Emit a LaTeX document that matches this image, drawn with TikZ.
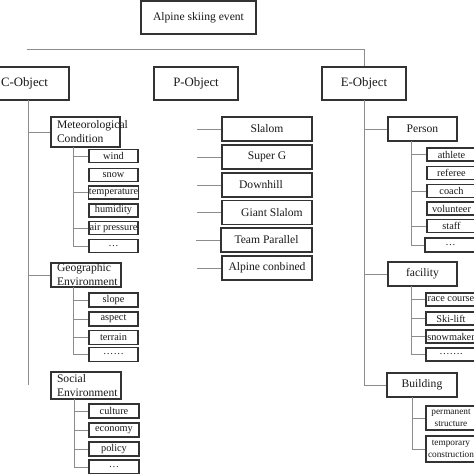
\documentclass[tikz,border=0pt]{standalone}
\usepackage{fontspec}
\setmainfont{Liberation Serif}
\begin{document}
\begin{tikzpicture}[x=1pt,y=-1pt,
  bx/.style={draw=black!80,line width=1.1pt,rectangle,inner sep=0pt,text=black!90},
  topf/.style={bx,font=\fontsize{12.8}{14}\selectfont,minimum width=84pt,minimum height=33pt},
  midf/.style={bx,font=\fontsize{11.6}{14}\selectfont},
  pbox/.style={midf,minimum width=90pt,minimum height=24pt},
  leaf/.style={bx,font=\fontsize{10.3}{12}\selectfont,minimum width=49pt,minimum height=13pt},
  conn/.style={draw=black!45,line width=0.9pt}]
\useasboundingbox (0,0) rectangle (474,474);
\clip (0,0) rectangle (474,474);
\fill[white] (0,0) rectangle (474,474);

% top level
\node[midf,minimum width=115pt,minimum height=33pt] (root) at (198.5,17.5) {Alpine skiing event};
\node[topf,minimum width=89pt] (cobj) at (24.5,83.5) {C-Object};
\node[topf] (pobj) at (196,83.5) {P-Object};
\node[topf] (eobj) at (364,83.5) {E-Object};
\coordinate (hl) at (27,49);
\draw[conn] (hl) -| (eobj.north);

% C-Object branch
\node[midf,minimum width=69pt,minimum height=30pt,text width=57pt,inner xsep=6pt,align=left] (mc) at (85.5,132) {Meteorological\\Condition};
\node[midf,minimum width=70pt,minimum height=24pt,text width=58pt,inner xsep=6pt,align=left] (geo) at (86,275) {Geographic\\Environment};
\node[midf,minimum width=70pt,minimum height=27pt,text width=58pt,inner xsep=6pt,align=left] (soc) at (86,385.5) {Social\\Environment};
\coordinate (cT) at (28,100);
\coordinate (cEnd) at (28,385);
\draw[conn] (cT) -- (cEnd);
\draw[conn] (cT) |- (mc.west);
\draw[conn] (cT) |- (geo.west);

\node[leaf] (wind) at (113.5,156) {wind};
\node[leaf] (snow) at (113.5,175) {snow};
\node[leaf] (temp) at (113.5,192.5) {temperature};
\node[leaf] (hum) at (113.5,210.5) {humidity};
\node[leaf] (air) at (113.5,228) {air pressure};
\node[leaf] (mdots) at (113.5,246) {\dots};
\coordinate (mcT) at (73,147);
\foreach \n in {wind,temp,air,mdots} \draw[conn] (mcT) |- (\n.west);

\node[leaf,minimum height=14pt] (slope) at (113.5,300) {slope};
\node[leaf,minimum height=14pt] (aspect) at (113.5,319) {aspect};
\node[leaf,minimum height=14pt] (terrain) at (113.5,337.5) {terrain};
\node[leaf,minimum height=14pt] (gdots) at (113.5,354.5) {\dots\dots};
\coordinate (geoT) at (73,287);
\foreach \n in {slope,aspect,terrain,gdots} \draw[conn] (geoT) |- (\n.west);

\node[leaf,minimum height=14pt,minimum width=50pt] (culture) at (114,411) {culture};
\node[leaf,minimum height=14pt,minimum width=50pt] (economy) at (114,430) {economy};
\node[leaf,minimum height=14pt,minimum width=50pt] (policy) at (114,449) {policy};
\node[leaf,minimum height=14pt,minimum width=50pt] (sdots) at (114,467) {\dots};
\coordinate (socT) at (74,399);
\foreach \n in {culture,economy,policy,sdots} \draw[conn] (socT) |- (\n.west);

% P-Object branch
\node[pbox] (slalom) at (267,129) {Slalom};
\node[pbox] (superg) at (267,157) {Super G};
\node[pbox] (downhill) at (267,185) {Downhill\hspace*{12pt}};
\node[pbox] (giant) at (267,212.5) {\hspace*{10pt}Giant Slalom};
\node[pbox,minimum width=91pt] (team) at (266.5,240) {Team Parallel};
\node[pbox] (combined) at (267,268) {Alpine conbined};
\foreach \n in {slalom,superg,downhill,giant,team,combined}
  \draw[conn] (\n.west) -- ([xshift=-24pt]\n.west);

% E-Object branch
\node[midf,minimum width=69pt,minimum height=24pt] (person) at (422.5,129) {Person};
\node[midf,minimum width=69pt,minimum height=24pt] (facility) at (422.5,274) {facility};
\node[midf,minimum width=70pt,minimum height=24pt] (building) at (422,385) {Building};
\coordinate (eT) at (364,100);
\foreach \n in {person,facility,building} \draw[conn] (eT) |- (\n.west);

\node[leaf] (athlete) at (451.5,154.5) {athlete};
\node[leaf] (referee) at (451.5,173) {referee};
\node[leaf] (coach) at (451.5,191) {coach};
\node[leaf] (volunteer) at (451.5,208.5) {volunteer};
\node[leaf] (staff) at (451.5,226) {staff};
\node[leaf,minimum height=14pt,minimum width=51pt] (pdots) at (450.5,245) {\dots};
\coordinate (perT) at (411,141);
\foreach \n in {athlete,coach,staff,pdots} \draw[conn] (perT) |- (\n.west);

\node[leaf,minimum width=50pt] (race) at (451,299.5) {race course};
\node[leaf,minimum width=50pt] (skilift) at (451,318.5) {Ski-lift};
\node[leaf,minimum width=50pt] (snowmaker) at (451,336.5) {snowmaker};
\node[leaf,minimum width=50pt] (fdots) at (451,354.5) {\dots\dots.};
\coordinate (facT) at (411,286);
\foreach \n in {race,skilift,snowmaker,fdots} \draw[conn] (facT) |- (\n.west);

\node[leaf,minimum width=50pt,minimum height=24pt,align=center,font=\fontsize{9.3}{12}\selectfont] (perm) at (451,418) {permanent\\structure};
\node[leaf,minimum width=50pt,minimum height=26pt,align=center,font=\fontsize{9.3}{12.5}\selectfont] (tempc) at (451,449) {temporary\\construction};
\coordinate (bldT) at (412,397);
\foreach \n in {perm,tempc} \draw[conn] (bldT) |- (\n.west);
\end{tikzpicture}
\end{document}
